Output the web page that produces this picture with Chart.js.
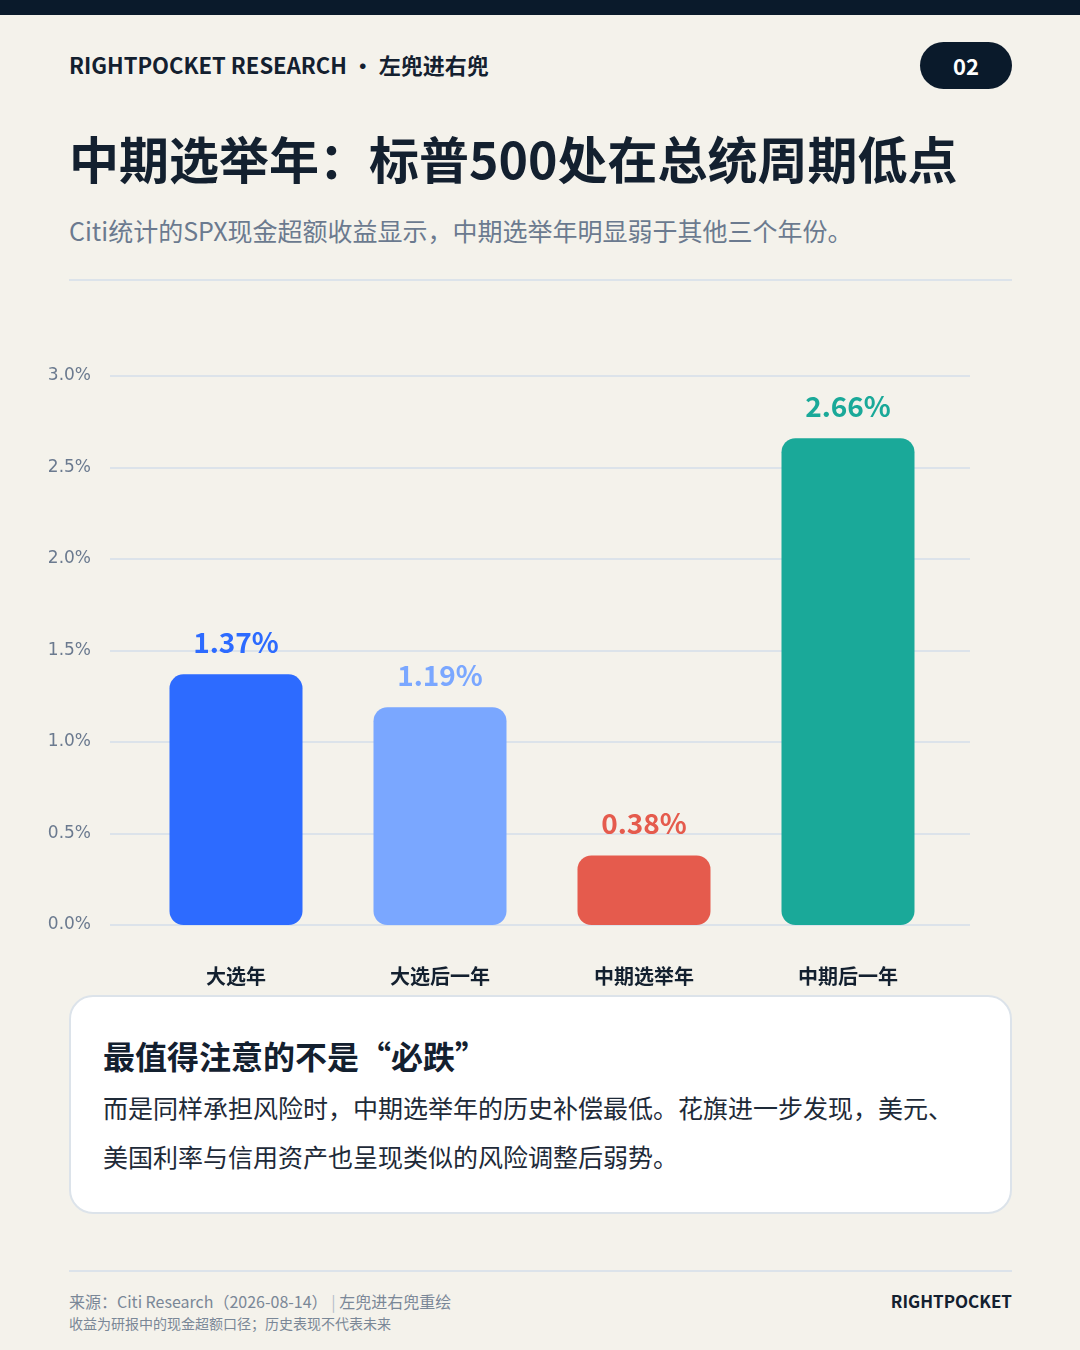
<!DOCTYPE html>
<html>
<head>
<meta charset="utf-8">
<script src="https://cdn.jsdelivr.net/npm/chart.js@4"></script>
<style>
  body { margin: 0; width: 1080px; height: 1350px; background: #F4F2EB; position: relative; overflow: hidden;
         font-family: "Noto Sans CJK SC", "Noto Sans", sans-serif; color: #13202F; }
  .topbar { position: absolute; left: 0; top: 0; width: 1080px; height: 15px; background: #0A1A2B; }
  .brand { position: absolute; left: 69px; top: 48px; font-size: 22px; font-weight: 700; line-height: 32px; white-space: pre; }
  .badge { position: absolute; left: 920px; top: 42px; width: 92px; height: 47px; border-radius: 24px; background: #0A1A2B;
           color: #fff; font-size: 22px; font-weight: 700; text-align: center; line-height: 47px; }
  h1 { position: absolute; left: 69px; top: 125px; margin: 0; font-size: 50px; font-weight: 700; line-height: 64px; }
  .sub { position: absolute; left: 69px; top: 213px; font-size: 25px; color: #6B7A8F; line-height: 34px; }
  .rule { position: absolute; left: 69px; width: 943px; height: 2px; background: #DCE3EA; }
  #wrap { position: absolute; left: 0; top: 300px; width: 1080px; height: 700px; }
  .card { position: absolute; left: 69px; top: 995px; width: 939px; height: 215px; background: #fff; border: 2px solid #DCE3EA; border-radius: 24px; }
  .card h2 { position: absolute; left: 32px; top: 36px; margin: 0; font-size: 32px; font-weight: 700; line-height: 44px; }
  .card p { position: absolute; left: 32px; top: 86px; margin: 0; font-size: 25px; line-height: 49px; color: #1E2A38; width: 862px; }
  .src { position: absolute; left: 69px; top: 1289px; font-size: 16px; color: #7A8797; line-height: 24px; }
  .src2 { position: absolute; left: 69px; top: 1313px; font-size: 14px; color: #7A8797; line-height: 20px; }
  .sig { position: absolute; right: 68px; top: 1289px; font-size: 17px; font-weight: 700; line-height: 24px; }
</style>
</head>
<body>
<div class="topbar"></div>
<div class="brand">RIGHTPOCKET RESEARCH · 左兜进右兜</div>
<div class="badge">02</div>
<h1>中期选举年：标普500处在总统周期低点</h1>
<div class="sub">Citi统计的SPX现金超额收益显示，中期选举年明显弱于其他三个年份。</div>
<div class="rule" style="top:279px"></div>
<div id="wrap"><canvas id="myChart"></canvas></div>
<div class="card">
  <h2>最值得注意的不是“必跌”</h2>
  <p>而是同样承担风险时，中期选举年的历史补偿最低。花旗进一步发现，美元、美国利率与信用资产也呈现类似的风险调整后弱势。</p>
</div>
<div class="rule" style="top:1270px"></div>
<div class="src">来源：Citi Research（2026-08-14）<span style="color:#B5BFCA"> | </span>左兜进右兜重绘</div>
<div class="src2">收益为研报中的现金超额口径；历史表现不代表未来</div>
<div class="sig">RIGHTPOCKET</div>
<script>
const categories = ['大选年', '大选后一年', '中期选举年', '中期后一年']
const returns = [1.37, 1.19, 0.38, 2.66]
const barColors = ['#2D6BFF', '#7AA7FF', '#E55B4D', '#1AA999']
const yTicks = [0, 0.5, 1.0, 1.5, 2.0, 2.5, 3.0]

const gridPlugin = {
    id: 'grid',
    beforeDatasetsDraw(chart) {
        const ctx = chart.ctx
        const y = chart.scales.y
        ctx.save()
        ctx.strokeStyle = '#DCE3EA'
        ctx.lineWidth = 2
        yTicks.forEach(t => {
            const py = Math.round(y.getPixelForValue(t))
            ctx.beginPath()
            ctx.moveTo(110, py)
            ctx.lineTo(970, py)
            ctx.stroke()
        })
        ctx.restore()
    }
}

const labelPlugin = {
    id: 'valueLabels',
    afterDatasetsDraw(chart) {
        const ctx = chart.ctx
        const meta = chart.getDatasetMeta(0)
        ctx.save()
        ctx.font = '700 28px "Noto Sans CJK SC"'
        ctx.textAlign = 'center'
        ctx.textBaseline = 'middle'
        meta.data.forEach((bar, i) => {
            ctx.fillStyle = barColors[i]
            ctx.fillText(returns[i].toFixed(2) + '%', bar.x, bar.y - 32)
        })
        ctx.restore()
    }
}

const ctx = document.getElementById('myChart').getContext('2d')
const myChart = new Chart(ctx, {
    type: 'bar',
    data: {
        labels: categories,
        datasets: [{
            data: returns,
            backgroundColor: barColors,
            borderRadius: 14,
            borderSkipped: false,
            categoryPercentage: 1,
            barPercentage: 0.652,
        }]
    },
    options: {
        responsive: true,
        maintainAspectRatio: false,
        animation: false,
        layout: { padding: { top: 76, right: 130, left: 0, bottom: 0 } },
        plugins: { legend: { display: false }, tooltip: { enabled: false } },
        scales: {
            y: {
                min: 0,
                max: 3,
                afterFit(axis) { axis.width = 134 },
                afterBuildTicks(axis) { axis.ticks = yTicks.map(v => ({ value: v })) },
                grid: { display: false, drawTicks: false },
                border: { display: false },
                ticks: {
                    padding: 43,
                    color: '#6B7A8F',
                    font: { family: 'DejaVu Sans', size: 17 },
                    callback: v => v.toFixed(1) + '%'
                }
            },
            x: {
                afterFit(axis) { axis.height = 75 },
                grid: { display: false, drawTicks: false },
                border: { display: false },
                ticks: {
                    padding: 39,
                    color: '#13202F',
                    font: { family: 'Noto Sans CJK SC', size: 20, weight: '700' }
                }
            }
        }
    },
    plugins: [gridPlugin, labelPlugin]
})
</script>
</body>
</html>
